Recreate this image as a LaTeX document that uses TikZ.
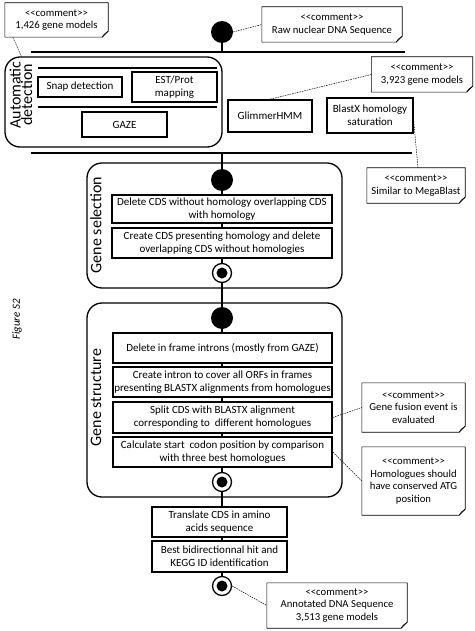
\documentclass[tikz,border=0pt]{standalone}
\usepackage{fontspec}
\setmainfont{Carlito}
\usetikzlibrary{calc}
\begin{document}
\begin{tikzpicture}[x=1pt,y=-1pt,
 act/.style={draw, line width=1.5pt, rectangle, inner sep=0pt, align=center, font=\fontsize{11}{12.8}\selectfont},
 region/.style={draw, line width=1.3pt, rounded corners=15pt, inner sep=0pt},
 bar/.style={fill=black, inner sep=0pt, minimum height=2pt},
 startnode/.style={circle, fill=black, minimum size=22pt, inner sep=0pt},
 endnode/.style={circle, draw, line width=1.3pt, fill=white, minimum size=19pt, inner sep=0pt, path picture={\fill[black] (path picture bounding box.center) circle (5.5pt);}},
 flow/.style={line width=1.5pt},
 cmt/.style={inner sep=0pt, align=center, font=\fontsize{10.7}{12.5}\selectfont},
 cmtline/.style={line width=0.5pt, dash pattern=on 1.5pt off 1pt},
 cmtbox/.style={line width=0.6pt},
 lbl/.style={rotate=90, align=center, font=\fontsize{16}{11.5}\selectfont},
]
\useasboundingbox (0,0) rectangle (474,631);

% regions
\node[region, minimum width=217pt, minimum height=90pt] (auto) at (113.5,102) {};
\node[region, minimum width=255pt, minimum height=125pt] (gsel) at (214.5,225.5) {};
\node[region, minimum width=255pt, minimum height=194pt] (gstr) at (214.5,400) {};
\node[lbl] (autolbl) at (21,95) {Automatic\\detection};
\node[lbl] (gsellbl) at (96,225) {Gene selection};
\node[lbl] (gstrlbl) at (96,397.5) {Gene structure};
\node[rotate=90, font=\fontsize{11}{12}\selectfont\itshape] (fig) at (17,319.5) {Figure S2};

% bars
\node[bar, minimum width=374pt] (topbar) at (218,52) {};
\node[bar, minimum width=381pt] (botbar) at (221.5,153) {};
\node[bar, minimum width=179pt] (ibar1) at (127.5,68) {};
\node[bar, minimum width=179pt] (ibar2) at (127.5,107) {};

% control nodes
\node[startnode] (start) at (222,32) {};
\node[startnode] (gsstart) at (222,180) {};
\node[endnode] (gsend) at (222,273) {};
\node[startnode] (ststart) at (222,318) {};
\node[endnode] (stend) at (222,482) {};
\node[endnode] (final) at (222,586) {};

% activities
\node[act, minimum width=84pt, minimum height=20pt] (snap) at (80,87) {Snap detection};
\node[act, minimum width=85pt, minimum height=30pt] (est) at (174.5,87) {EST/Prot\\mapping};
\node[act, minimum width=85pt, minimum height=25pt] (gaze) at (124.5,124.5) {GAZE};
\node[act, minimum width=84pt, minimum height=32pt] (glimmer) at (270,116) {GlimmerHMM};
\node[act, minimum width=86pt, minimum height=35pt] (blastx) at (370,115.5) {BlastX homology\\saturation};

\node[act, minimum width=220pt, minimum height=28pt] (del1) at (222,209) {Delete CDS without homology overlapping CDS\\with homology};
\node[act, minimum width=220pt, minimum height=30pt] (cre1) at (222,243) {Create CDS presenting homology and delete\\overlapping CDS without homologies};

\node[act, minimum width=219pt, minimum height=30pt] (delin) at (222.5,348) {Delete in frame introns (mostly from GAZE)};
\node[act, minimum width=219pt, minimum height=30pt] (creint) at (222.5,382) {Create intron to cover all ORFs in frames\\presenting BLASTX alignments from homologues};
\node[act, minimum width=219pt, minimum height=31pt] (split) at (222.5,417.5) {Split CDS with BLASTX alignment\\corresponding to\ \ different homologues};
\node[act, minimum width=219pt, minimum height=30pt] (calc) at (222.5,452) {Calculate start\ \ codon position by comparison\\with three best homologues};

\node[act, minimum width=135pt, minimum height=30pt] (transl) at (219.5,522) {Translate CDS in amino\\acids sequence};
\node[act, minimum width=135pt, minimum height=31pt] (best) at (219.5,556.5) {Best bidirectionnal hit and\\KEGG ID identification};

% flow
\draw[flow] (start) -- (start |- topbar.north);
\draw[flow] (gsstart |- botbar.south) -- (gsstart);
\draw[flow] (gsstart) -- (gsstart |- del1.north);
\draw[flow] (gsstart |- del1.south) -- (gsstart |- cre1.north);
\draw[flow] (gsend |- cre1.south) -- (gsend);
\draw[flow] (gsend) -- (ststart);
\draw[flow] (ststart) -- (ststart |- delin.north);
\draw[flow] (ststart |- delin.south) -- (ststart |- creint.north);
\draw[flow] (ststart |- creint.south) -- (ststart |- split.north);
\draw[flow] (ststart |- split.south) -- (ststart |- calc.north);
\draw[flow] (stend |- calc.south) -- (stend);
\draw[flow] (stend) -- (stend |- transl.north);
\draw[flow] (stend |- transl.south) -- (stend |- best.north);
\draw[flow] (final |- best.south) -- (final);

% comments
\node[cmt, minimum width=103pt, minimum height=34pt] (c1) at (56.5,20) {<{}<comment>{}>\\1,426 gene models};
\node[cmt, minimum width=140pt, minimum height=35pt] (c2) at (332,24.5) {<{}<comment>{}>\\Raw nuclear DNA Sequence};
\node[cmt, minimum width=101pt, minimum height=35pt] (c3) at (422,74.5) {<{}<comment>{}>\\3,923 gene models};
\node[cmt, minimum width=98pt, minimum height=35pt] (c4) at (416,185.5) {<{}<comment>{}>\\Similar to MegaBlast};
\node[cmt, minimum width=103pt, minimum height=49pt] (c5) at (413.5,407.5) {<{}<comment>{}>\\Gene fusion event is\\evaluated};
\node[cmt, minimum width=103pt, minimum height=68pt] (c6) at (413.5,481) {<{}<comment>{}>\\Homologues should\\have conserved ATG\\position};
\node[cmt, minimum width=140pt, minimum height=45pt] (c7) at (337,605.5) {<{}<comment>{}>\\Annotated DNA Sequence\\3,513 gene models};
\foreach \n in {c1,c2,c3,c4,c5,c6,c7} {
  \draw[cmtbox] (\n.north west) -- (\n.north east) -- ($(\n.south east)+(0pt,6pt)$) -- ($(\n.south east)+(-6pt,0pt)$) -- (\n.south west) -- cycle;
  \draw[cmtbox] ($(\n.south east)+(0pt,6pt)$) -- ($(\n.south east)+(-4pt,3pt)$) -- ($(\n.south east)+(-6pt,0pt)$);
}

% comment links
\draw[cmtline] ($(c1.south west)+(8pt,0pt)$) -- ($(auto.north west)+(17pt,0pt)$);
\draw[cmtline] (start.east) -- (c2.west);
\draw[cmtline] (c3.west) -- (glimmer.north);
\draw[cmtline] ($(blastx.east)+(0pt,-6pt)$) -- ($(c4.north)+(2pt,0pt)$);
\draw[cmtline] (split.east) -- (c5.west);
\draw[cmtline] (calc.east) -- (c6.west);
\draw[cmtline] (final.east) -- (c7.west);
\end{tikzpicture}
\end{document}
